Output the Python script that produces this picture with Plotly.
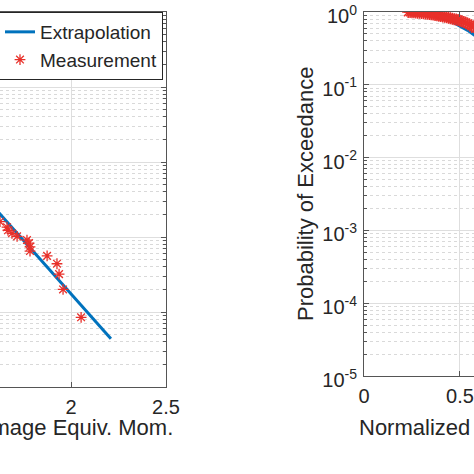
import plotly.graph_objects as go

# ---------------- data ----------------
# Left panel: extrapolation line and measurement points
ext_x = [1.60, 2.21]
ext_y = [2.4e-3, 4.4e-5]
meas_x = [1.626, 1.663, 1.668, 1.689, 1.716, 1.768, 1.779, 1.784, 1.784, 1.874, 1.926, 1.937, 1.958, 2.053]
meas_y = [1.6e-3, 1.35e-3, 1.23e-3, 1.12e-3, 1.02e-3, 9.1e-4, 8.3e-4, 7.4e-4, 6.5e-4, 5.6e-4, 4.4e-4, 3.2e-4, 2.0e-4, 8.5e-5]

# Right panel: fitted curve and measured exceedance probabilities
fit_x = [0.22, 0.26, 0.30, 0.34, 0.38, 0.42, 0.46, 0.50, 0.54, 0.58, 0.62]
fit_y = [1.0, 0.96, 0.92, 0.89, 0.85, 0.80, 0.73, 0.64, 0.56, 0.47, 0.40]
obs_x = [0.23, 0.24, 0.25, 0.26, 0.27, 0.28, 0.29, 0.30, 0.31, 0.32, 0.33, 0.34,
         0.35, 0.36, 0.37, 0.38, 0.39, 0.40, 0.41, 0.42, 0.43, 0.44, 0.45, 0.46,
         0.47, 0.48, 0.49, 0.50, 0.51, 0.52, 0.53, 0.54, 0.55, 0.56, 0.57, 0.58]
obs_y = [1.0, 0.998, 0.995, 0.99, 0.985, 0.98, 0.975, 0.97, 0.963, 0.956, 0.948, 0.94,
         0.931, 0.921, 0.911, 0.90, 0.89, 0.88, 0.87, 0.858, 0.846, 0.834, 0.822, 0.81,
         0.798, 0.786, 0.774, 0.76, 0.745, 0.728, 0.71, 0.69, 0.668, 0.645, 0.62, 0.595]

left_xticks = [1.5, 2, 2.5]
left_xlabels = ["1.5", "2", "2.5"]
right_xticks = [0, 0.5, 1]
right_xlabels = ["0", "0.5", "1"]
yticks = [1e-5, 1e-4, 1e-3, 1e-2, 1e-1, 1]
ylabels = ["10<sup>-5</sup>", "10<sup>-4</sup>", "10<sup>-3</sup>", "10<sup>-2</sup>", "10<sup>-1</sup>", "10<sup>0</sup>"]
xtitle = "Normalized Damage Equiv. Mom."
ytitle = "Probability of Exceedance"

# ---------------- style ----------------
FONT = "Liberation Sans, Arial, sans-serif"
TXT = "#262626"
BLUE = "#0072BD"
RED = "#E8302A"
AX = "#555555"
GRID = "#dedede"
MGRID = "#d9d9d9"
W = H = 474

minor_vals = [m * 10.0 ** e for e in range(-5, 0) for m in range(2, 10)]

fig = go.Figure()
fig.add_trace(go.Scatter(x=ext_x, y=ext_y, mode="lines", name="Extrapolation",
                         line=dict(color=BLUE, width=3), xaxis="x", yaxis="y"))
fig.add_trace(go.Scatter(x=meas_x, y=meas_y, mode="markers", name="Measurement",
                         marker=dict(symbol="asterisk-open", size=9, color=RED,
                                     line=dict(color=RED, width=1.3)),
                         xaxis="x", yaxis="y"))
fig.add_trace(go.Scatter(x=fit_x, y=fit_y, mode="lines", showlegend=False,
                         line=dict(color=BLUE, width=3), xaxis="x2", yaxis="y2"))
fig.add_trace(go.Scatter(x=obs_x, y=obs_y, mode="markers", showlegend=False,
                         marker=dict(symbol="asterisk-open", size=10, color=RED,
                                     line=dict(color=RED, width=1.5)),
                         xaxis="x2", yaxis="y2"))

common_x = dict(ticks="inside", ticklen=5, tickcolor=AX, showline=True, linecolor=AX,
                linewidth=1, mirror="ticks", showgrid=True, gridcolor=GRID, gridwidth=1,
                zeroline=False, automargin=False, ticklabeloverflow="allow",
                tickfont=dict(family=FONT, size=20, color=TXT),
                ticklabelstandoff=2)
common_y = dict(type="log", range=[-5, 0], ticks="inside", ticklen=5, tickcolor=AX,
                showline=True, linecolor=AX, linewidth=1, showgrid=True,
                gridcolor=GRID, gridwidth=1, zeroline=False, automargin=False,
                ticklabeloverflow="allow",
                tickfont=dict(family=FONT, size=20, color=TXT),
                minor=dict(tickmode="array", tickvals=minor_vals, ticks="inside",
                           ticklen=3, tickcolor=AX, showgrid=True, gridcolor=MGRID,
                           griddash="dot", gridwidth=1))

fig.update_layout(
    width=W, height=H, margin=dict(l=0, r=0, t=0, b=0, autoexpand=False),
    paper_bgcolor="white", plot_bgcolor="white",
    font=dict(family=FONT, color=TXT),
    xaxis=dict(domain=[0, 166 / W], range=[1.626, 2.5], tickmode="array",
               tickvals=left_xticks, ticktext=left_xlabels, anchor="y", **common_x),
    yaxis=dict(domain=[(H - 387) / H, (H - 12) / H], side="right", anchor="x",
               showticklabels=False, tickmode="array", tickvals=yticks,
               **common_y),
    xaxis2=dict(domain=[364 / W, 1.0], range=[0, 0.573], tickmode="array",
                tickvals=right_xticks, ticktext=right_xlabels, anchor="y2", **common_x),
    yaxis2=dict(domain=[(H - 376) / H, (H - 12) / H], anchor="x2", tickmode="array",
                tickvals=yticks, ticktext=ylabels, ticklabelstandoff=2,
                ticklabelshift=4, **common_y),
    legend=dict(x=163 / W, xanchor="right", y=(H - 12) / H, yanchor="top",
                bgcolor="white", bordercolor=TXT, borderwidth=1,
                font=dict(family=FONT, size=19, color=TXT), tracegroupgap=0),
    annotations=[
        dict(text=xtitle, xref="paper", yref="paper", x=175 / W, y=(H - 427) / H,
             xanchor="right", yanchor="middle", showarrow=False,
             font=dict(family=FONT, size=22, color=TXT)),
        dict(text=xtitle, xref="paper", yref="paper", x=357 / W, y=(H - 427) / H,
             xanchor="left", yanchor="middle", showarrow=False,
             font=dict(family=FONT, size=22, color=TXT)),
        dict(text=ytitle, xref="paper", yref="paper", x=305 / W, y=(H - 194) / H,
             xanchor="center", yanchor="middle", textangle=-90, showarrow=False,
             font=dict(family=FONT, size=22, color=TXT)),
    ],
)

fig.write_html("out.html")
